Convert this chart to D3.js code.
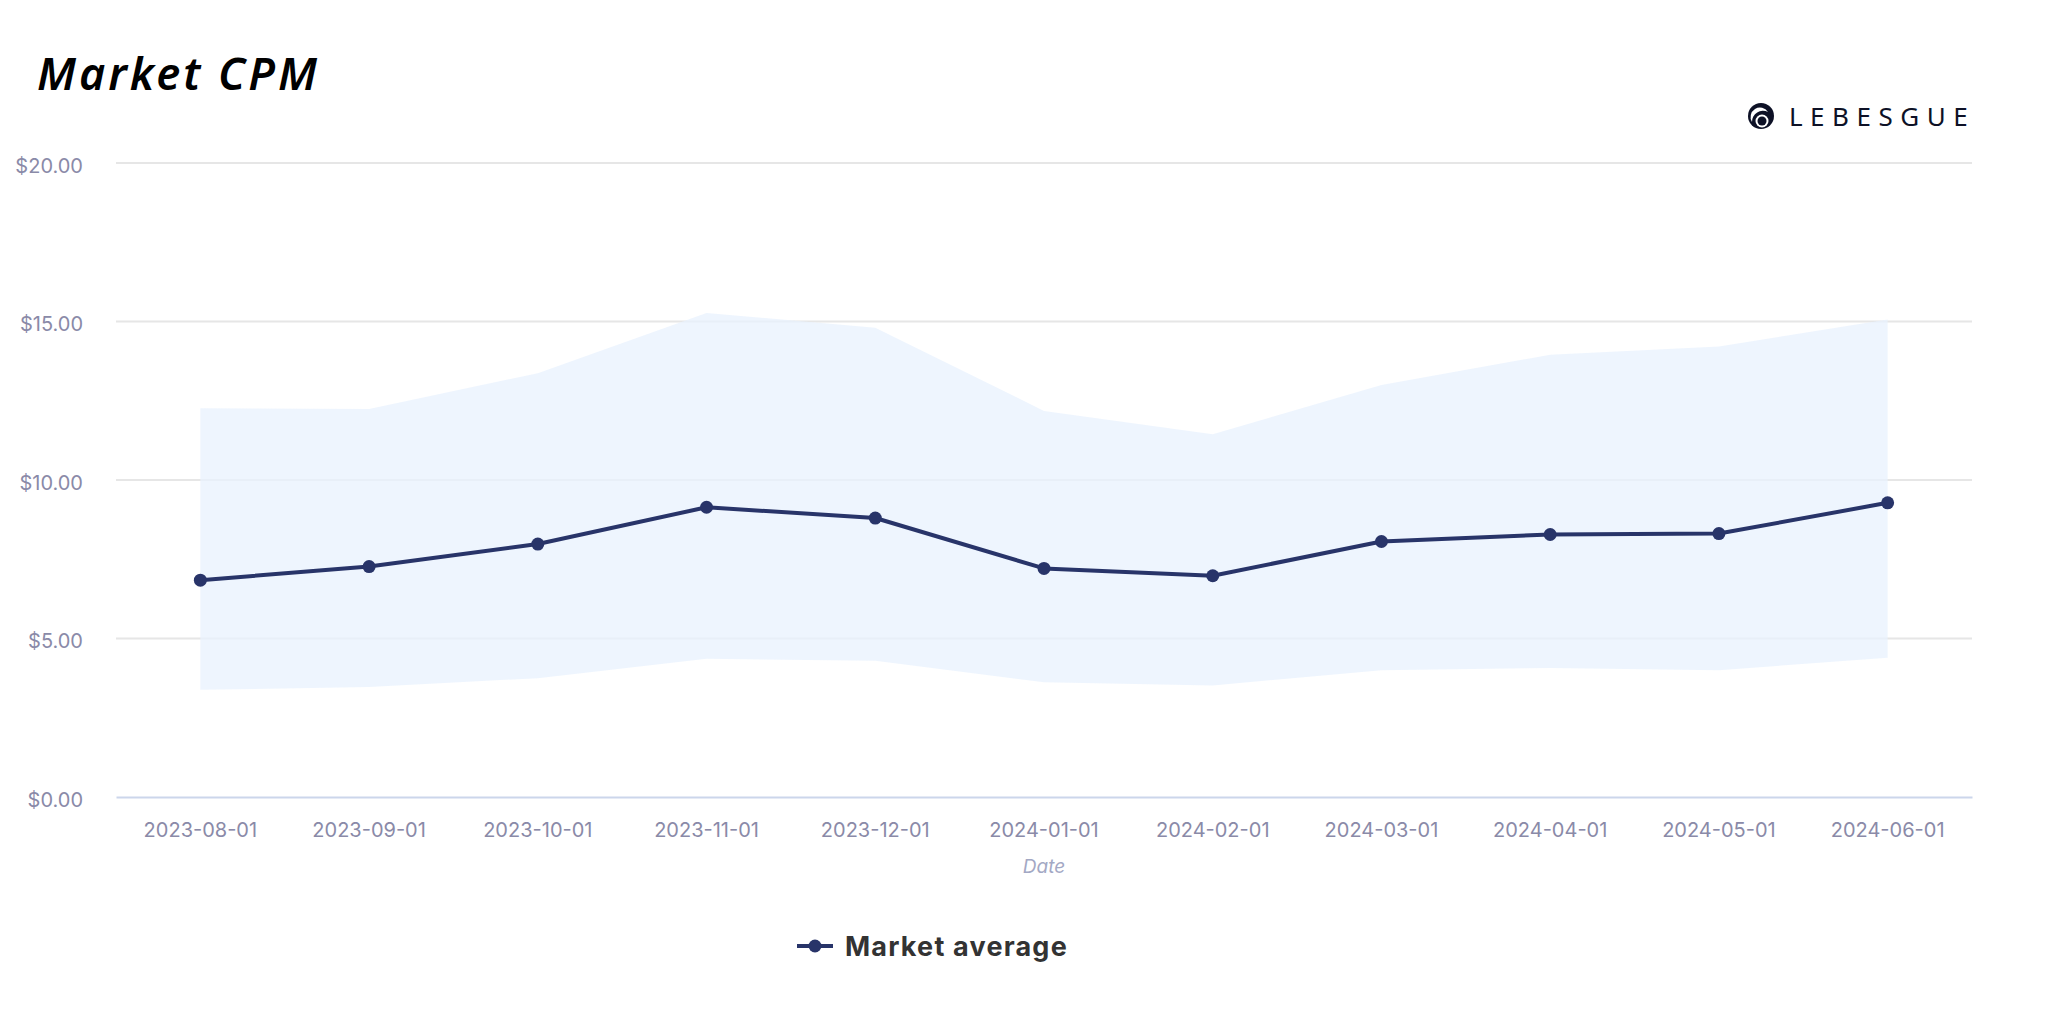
<!DOCTYPE html>
<html>
<head>
<meta charset="utf-8">
<script src="https://cdn.jsdelivr.net/npm/d3@7"></script>
<style>
  html, body { margin: 0; padding: 0; background: #ffffff; }
  svg { display: block; }
</style>
</head>
<body>
<svg id="chart" width="2048" height="1023"></svg>
<script>
const categories = ["2023-08-01","2023-09-01","2023-10-01","2023-11-01","2023-12-01","2024-01-01","2024-02-01","2024-03-01","2024-04-01","2024-05-01","2024-06-01"];
const marketAverage = [6.84, 7.27, 7.98, 9.14, 8.80, 7.21, 6.98, 8.06, 8.28, 8.31, 9.28];
const rangeHigh = [12.26, 12.24, 13.37, 15.27, 14.80, 12.18, 11.44, 13.00, 13.95, 14.21, 15.06];
const rangeLow = [3.38, 3.47, 3.75, 4.36, 4.30, 3.62, 3.52, 4.00, 4.07, 4.00, 4.39];
const yTicks = [0, 5, 10, 15, 20];
const titleText = "Market CPM";
const xAxisTitle = "Date";
const seriesName = "Market average";
const brandName = "LEBESGUE";

const svg = d3.select("#chart");
const margin = { left: 116, right: 76, top: 163, bottom: 226 };
const W = 2048, H = 1023;
const plotW = W - margin.left - margin.right;
const plotH = H - margin.top - margin.bottom;

const x = d3.scaleBand().domain(categories).range([margin.left, margin.left + plotW]).padding(0);
const y = d3.scaleLinear().domain([0, 20]).range([margin.top + plotH, margin.top]);
const cx = d => x(d) + x.bandwidth() / 2;

const tickFont = "Inter, 'Noto Sans', sans-serif";

// gridlines
svg.append("g").selectAll("line").data(yTicks.filter(t => t > 0)).join("line")
  .attr("x1", margin.left).attr("x2", margin.left + plotW)
  .attr("y1", d => y(d)).attr("y2", d => y(d))
  .attr("stroke", "#e6e6e6").attr("stroke-width", 2);

// area range
const rows = categories.map((c, i) => ({ c, lo: rangeLow[i], hi: rangeHigh[i], avg: marketAverage[i] }));
const area = d3.area().x(d => cx(d.c)).y0(d => y(d.lo)).y1(d => y(d.hi));
svg.append("path").datum(rows).attr("d", area).attr("fill", "#e8f2fd").attr("fill-opacity", 0.75);

// y axis labels
const yAxis = d3.axisLeft(y).tickValues(yTicks).tickSize(0).tickPadding(0).tickFormat(d => "$" + d3.format(".2f")(d));
const yg = svg.append("g").attr("transform", `translate(${margin.left - 33},3)`).call(yAxis);
yg.select(".domain").remove();
yg.selectAll("text").attr("fill", "#8a8aa8").style("font-family", tickFont).style("font-size", "20px");

// x axis
const xAxis = d3.axisBottom(x).tickSize(0).tickPadding(26);
const xg = svg.append("g").attr("transform", `translate(0,${margin.top + plotH})`).call(xAxis);
xg.select(".domain").attr("stroke", "#ccd6eb").attr("stroke-width", 2);
xg.selectAll("text").attr("fill", "#8a8aa8").style("font-family", tickFont).style("font-size", "20px");

// line
const line = d3.line().x(d => cx(d.c)).y(d => y(d.avg));
const lineColor = "#283469";
svg.append("path").datum(rows).attr("d", line).attr("fill", "none").attr("stroke", lineColor).attr("stroke-width", 4).attr("stroke-linejoin", "round");
svg.append("g").selectAll("circle").data(rows).join("circle")
  .attr("cx", d => cx(d.c)).attr("cy", d => y(d.avg)).attr("r", 6.5).attr("fill", lineColor);

// x axis title
svg.append("text").attr("x", margin.left + plotW / 2).attr("y", 873).attr("text-anchor", "middle")
  .attr("fill", "#a3a8c4").style("font-family", tickFont).style("font-size", "19px").style("font-style", "italic")
  .text(xAxisTitle);

// title
svg.append("text").attr("x", 37).attr("y", 90)
  .attr("fill", "#000").style("font-family", "'Noto Sans', sans-serif").style("font-size", "45px").style("font-style", "italic").style("font-weight", 600)
  .style("letter-spacing", "3px")
  .text(titleText);

// brand logo
const logo = svg.append("g").attr("transform", "translate(1761,116)");
logo.append("circle").attr("r", 13).attr("fill", "#0d1126");
logo.append("path").attr("d", "M -9 6 A 9 9 0 0 1 7 -4 A 11 11 0 0 0 -9 6 Z").attr("fill", "#fff");
logo.append("circle").attr("cx", 1).attr("cy", 5).attr("r", 6.5).attr("fill", "#fff");
logo.append("circle").attr("cx", 1).attr("cy", 5).attr("r", 4.5).attr("fill", "#0d1126");
svg.append("text").attr("x", 1789).attr("y", 126)
  .attr("fill", "#0d1126").style("font-family", "'Noto Sans', sans-serif").style("font-size", "26px").style("letter-spacing", "7.5px")
  .text(brandName);

// legend
const lg = svg.append("g").attr("transform", "translate(797,946)");
lg.append("line").attr("x1", 0).attr("x2", 36).attr("stroke", lineColor).attr("stroke-width", 4);
lg.append("circle").attr("cx", 18).attr("r", 6.5).attr("fill", lineColor);
lg.append("text").attr("x", 48).attr("y", 10).attr("fill", "#333333")
  .style("font-family", tickFont).style("font-size", "27px").style("font-weight", 700).style("letter-spacing", "1.2px")
  .text(seriesName);
</script>
</body>
</html>
